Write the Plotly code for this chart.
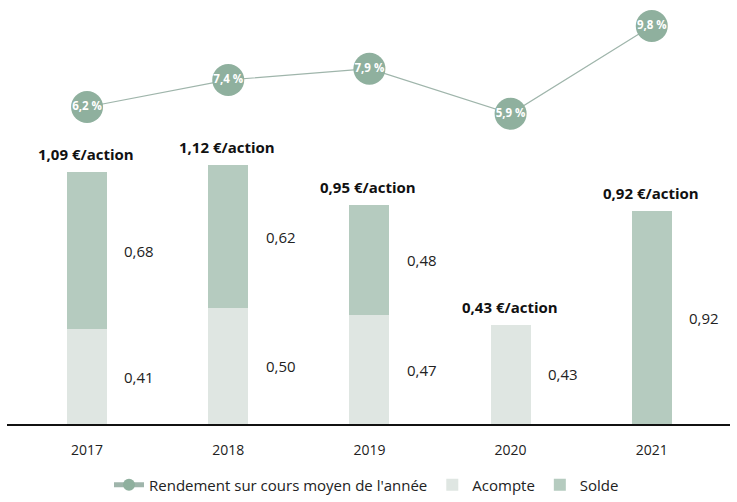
import plotly.graph_objects as go

years = ["2017", "2018", "2019", "2020", "2021"]
acompte = [0.41, 0.50, 0.47, 0.43, 0.0]
solde = [0.68, 0.62, 0.48, 0.0, 0.92]
totals = [1.09, 1.12, 0.95, 0.43, 0.92]
total_labels = ["1,09 €/action", "1,12 €/action", "0,95 €/action", "0,43 €/action", "0,92 €/action"]
acompte_labels = ["0,41", "0,50", "0,47", "0,43", ""]
solde_labels = ["0,68", "0,62", "0,48", "", "0,92"]
rendement = [6.2, 7.4, 7.9, 5.9, 9.8]
rendement_labels = ["6,2 %", "7,4 %", "7,9 %", "5,9 %", "9,8 %"]

C_ACOMPTE = "#dfe6e2"
C_SOLDE = "#b5cbbf"
C_MARKER = "#8fb09e"
C_LINE = "#9fb5ab"
FONT = "Open Sans"

xs = list(range(len(years)))

fig = go.Figure()

fig.add_trace(go.Scatter(
    x=xs, y=rendement, yaxis="y2", mode="lines+markers+text",
    name="Rendement sur cours moyen de l'année",
    line=dict(color=C_LINE, width=1.2),
    marker=dict(size=32, color=C_MARKER, line=dict(width=0)),
    text=rendement_labels, textposition="middle center",
    textfont=dict(family=FONT, size=11.5, color="white", weight="bold"),
    cliponaxis=False,
))

fig.add_trace(go.Bar(
    x=xs, y=acompte, name="Acompte", marker=dict(color=C_ACOMPTE, line=dict(width=0)),
    width=0.283,
))
fig.add_trace(go.Bar(
    x=xs, y=solde, name="Solde", marker=dict(color=C_SOLDE, line=dict(width=0)),
    width=0.283,
))

annotations = []
for i in xs:
    annotations.append(dict(
        x=i, y=totals[i], xref="x", yref="y", text=total_labels[i],
        showarrow=False, yanchor="bottom", yshift=6, xshift=-1,
        font=dict(family=FONT, size=15, color="#111111", weight="bold"),
    ))
    if acompte_labels[i]:
        annotations.append(dict(
            x=i + 0.25, y=acompte[i] / 2, xref="x", yref="y", text=acompte_labels[i],
            showarrow=False, xanchor="left", yanchor="middle",
            font=dict(family=FONT, size=15, color="#222222"),
        ))
    if solde_labels[i]:
        annotations.append(dict(
            x=i + 0.25, y=acompte[i] + solde[i] / 2, xref="x", yref="y", text=solde_labels[i],
            showarrow=False, xanchor="left", yanchor="middle",
            font=dict(family=FONT, size=15, color="#222222"),
        ))

fig.update_layout(
    width=737, height=502,
    margin=dict(l=7, r=7, t=10, b=78),
    paper_bgcolor="white", plot_bgcolor="white",
    barmode="stack",
    showlegend=True,
    legend=dict(orientation="h", x=109 / 737, xref="container", xanchor="left",
                y=17 / 502, yref="container", yanchor="middle",
                font=dict(family=FONT, size=15, color="#222222"),
                traceorder="normal", itemwidth=30, itemsizing="constant"),
    xaxis=dict(
        tickmode="array", tickvals=xs, ticktext=years,
        range=[-0.567, 4.554],
        showgrid=False, zeroline=False,
        showline=True, linecolor="#111111", linewidth=1.5,
        ticks="", tickfont=dict(family=FONT, size=14, color="#222222"),
        ticklabelstandoff=12,
    ),
    yaxis=dict(range=[0, 1.792], visible=False, showgrid=False, zeroline=False),
    yaxis2=dict(range=[-7.89, 10.51], overlaying="y", visible=False,
                showgrid=False, zeroline=False),
    annotations=annotations,
    font=dict(family=FONT),
)

fig.write_html("out.html", config={"displayModeBar": False},
               post_script="document.body.style.margin='0';")
